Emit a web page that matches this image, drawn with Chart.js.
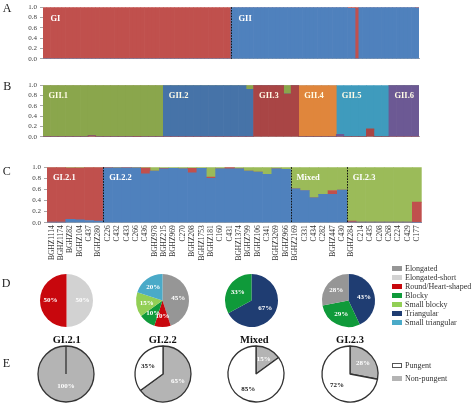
<!DOCTYPE html>
<html><head><meta charset="utf-8">
<script src="https://cdn.jsdelivr.net/npm/chart.js@4.4.0/dist/chart.umd.min.js"></script>
<style>
html,body{margin:0;padding:0;background:#fff;width:474px;height:407px;overflow:hidden;font-family:"Liberation Serif","Times New Roman",serif;}
#fig{position:relative;width:474px;height:407px;}
canvas{position:absolute;}
.letter{position:absolute;font-size:12px;line-height:12px;color:#222;}
.grp{position:absolute;font-weight:bold;font-size:10.5px;line-height:10.5px;color:#111;transform:translateX(-50%);white-space:nowrap;}
.leg{position:absolute;font-size:8px;line-height:9px;color:#333;white-space:nowrap;}
.sw{position:absolute;width:10px;height:5px;box-sizing:border-box;}
</style></head><body><div id="fig"></div>
<script>
// ---------------- DATA ----------------
// Panel A (K=2), 100 accessions
const groupNamesA = ['GI','GII'];
const groupStartsA = [0,50];
const redA = [
1,1,1,1,1,1,1,1,1,1, 1,1,1,1,1,1,1,1,1,1, 1,1,1,1,1,1,1,1,1,1, 1,1,1,1,1,1,1,1,1,1, 1,1,1,1,1,1,1,1,1,1,
0,0,0,0,0,0,0,0,0,0, 0,0,0,0,0,0,0,0,0,0, 0,0,0,0,0,0,0,0,0,0, 0,0.02,0.02,1,0,0,0,0,0,0, 0,0,0,0,0,0,0,0,0,0.01];
const blueA = [
0,0,0,0,0,0,0,0,0,0, 0,0,0,0,0,0,0,0,0,0, 0,0,0,0,0,0,0,0,0,0, 0,0,0,0,0,0,0,0,0,0, 0,0,0,0,0,0,0,0,0,0,
1,1,1,1,1,1,1,1,1,1, 1,1,1,1,1,1,1,1,1,1, 1,1,1,1,1,1,1,1,1,1, 1,0.98,0.98,0,1,1,1,1,1,1, 1,1,1,1,1,1,1,1,1,0.99];

// Panel B (GII substructure), 50 accessions
const groupNamesB = ['GII.1','GII.2','GII.3','GII.4','GII.5','GII.6'];
const groupStartsB = [0,16,28,34,39,46];
const redB    = [0,0,0,0,0,0,0.02,0,0,0, 0,0,0.01,0,0,0,0,0,0,0, 0,0,0,0,0,0,0,0,1,1, 1,1,0.83,1,0,0,0,0,0,0, 0,0,0,0.15,0,0,0,0,0,0];
const purpleB = [0,0,0,0,0,0,0,0,0,0, 0,0,0,0,0,0,0,0,0,0, 0,0,0,0,0,0,0,0,0,0, 0,0,0,0,0,0,0,0,0,0.05, 0,0,0,0,0,0,1,1,1,1];
const blueB   = [0,0,0,0,0,0,0,0,0,0, 0,0,0,0,0,0,1,1,1,1, 1,1,1,1,1,1,1,0.92,0,0, 0,0,0,0,0,0,0,0,0,0, 0,0,0,0,0,0,0,0,0,0];
const greenB  = [1,1,1,1,1,1,0.98,1,1,1, 1,1,0.99,1,1,1,0,0,0,0, 0,0,0,0,0,0,0,0.08,0,0, 0,0,0.17,0,0,0,0,0,0,0, 0,0,0,0,0,0,0,0,0,0];
const orangeB = [0,0,0,0,0,0,0,0,0,0, 0,0,0,0,0,0,0,0,0,0, 0,0,0,0,0,0,0,0,0,0, 0,0,0,0,1,1,1,1,1,0, 0,0,0,0,0,0,0,0,0,0];
const tealB   = [0,0,0,0,0,0,0,0,0,0, 0,0,0,0,0,0,0,0,0,0, 0,0,0,0,0,0,0,0,0,0, 0,0,0,0,0,0,0,0,0,0.95, 1,1,1,0.85,1,1,0,0,0,0];

// Panel C (GI.2 substructure), 40 accessions
const samplesC = ['BGHZ1114','BGHZ1174','BGHZ82','BGHZ104','C437','BGHZ280','C226','C432','C433','C266','C436','BGHZ978','BGHZ215','BGHZ969','C270','BGHZ208','BGHZ1753','BGHZ181','C160','C431','BGHZ1374','BGHZ799','BGHZ106','C341','BGHZ3269','BGHZ966','BGHZ2169','C331','C434','C282','BGHZ447','C430','BGHZ284','C214','C435','C208','C268','C224','C429','C177'];
const groupNamesC = ['GI.2.1','GI.2.2','Mixed','GI.2.3'];
const groupStartsC = [0,6,26,32];
const blueC  = [0.01,0.01,0.06,0.05,0.04,0.03, 0.99,0.99,0.99,0.99,0.88,0.93,0.97,0.98,0.97,0.90,0.98,0.80,0.97,0.97,0.97,0.93,0.91,0.87,0.97,0.96, 0.61,0.58,0.45,0.51,0.51,0.59, 0.01,0.01,0.01,0.01,0.01,0.01,0.01,0];
const redC   = [0.99,0.99,0.93,0.94,0.96,0.97, 0.01,0,0.01,0,0.11,0,0.01,0,0,0.08,0,0.02,0,0.03,0,0,0,0,0,0, 0,0,0,0,0.07,0, 0.02,0,0,0,0,0,0,0.37];
const greenC = [0,0,0.01,0.01,0,0, 0,0.01,0,0.01,0.01,0.07,0.02,0.02,0.03,0.02,0.02,0.18,0.03,0,0.03,0.07,0.09,0.13,0.03,0.04, 0.39,0.42,0.55,0.49,0.42,0.41, 0.97,0.99,0.99,0.99,0.99,0.99,0.99,0.63];

// Panel D: fruit shape (%), slices clockwise from top
const shapeNames = ['Elongated','Elongated-short','Round/Heart-shaped','Blocky','Small blocky','Triangular','Small triangular'];
const pieGroups = ['GI.2.1','GI.2.2','Mixed','GI.2.3'];
const shapesGI21 = ['Elongated-short','Round/Heart-shaped'];
const valuesGI21 = [50,50];
const shapesGI22 = ['Elongated','Round/Heart-shaped','Blocky','Small blocky','Small triangular'];
const valuesGI22 = [45,10,10,15,20];
const shapesMixed = ['Triangular','Blocky'];
const valuesMixed = [67,33];
const shapesGI23 = ['Triangular','Blocky','Elongated'];
const valuesGI23 = [43,29,28];

// Panel E: pungency (%)
const pungencyNames = ['Pungent','Non-pungent'];
const nonPungent = [100,65,15,28];
const pungent = [0,35,85,72];

// ---------------- STYLE ----------------
const SERIF = 'Liberation Serif';
const shapeColors = {'Elongated':'#969696','Elongated-short':'#d2d2d2','Round/Heart-shaped':'#c8070d','Blocky':'#0f9a3a','Small blocky':'#92cf55','Triangular':'#1f3d72','Small triangular':'#4aaac8'};
const fig = document.getElementById('fig');

const groupDeco = {
  id:'groupDeco',
  afterDatasetsDraw(chart, args, o){
    const {ctx, chartArea} = chart; const xs = chart.scales.x;
    const n = chart.data.labels.length; const bw = xs.width / n;
    ctx.save();
    ctx.strokeStyle = '#111'; ctx.lineWidth = 1; ctx.setLineDash([1.6,1.2]);
    o.starts.forEach((s,k)=>{
      if(!o.dividers || s === 0) return;
      const px = Math.round(xs.getPixelForValue(s) - bw/2) + 0.5;
      ctx.beginPath(); ctx.moveTo(px, chartArea.top); ctx.lineTo(px, chartArea.bottom); ctx.stroke();
    });
    ctx.setLineDash([]);
    ctx.font = 'bold 8.5px "' + SERIF + '"'; ctx.fillStyle = o.color; ctx.textBaseline = 'alphabetic';
    o.names.forEach((nm,k)=>{
      const px = xs.getPixelForValue(o.starts[k]) - bw/2 + o.dx;
      ctx.fillText(nm, px, chartArea.top + o.dy);
    });
    ctx.restore();
  }
};

function makeCanvas(left, top, w, h){
  const c = document.createElement('canvas');
  c.width = w; c.height = h;
  c.style.left = left + 'px'; c.style.top = top + 'px';
  c.style.width = w + 'px'; c.style.height = h + 'px';
  fig.appendChild(c);
  return c;
}

function makeBar(cfg){
  const c = makeCanvas(cfg.left, cfg.top, cfg.w, cfg.h);
  new Chart(c, {
    type:'bar',
    data:{labels:cfg.labels, datasets:cfg.series.map(s=>({label:s[0], data:s[1], backgroundColor:s[2], borderWidth:0, barPercentage:1, categoryPercentage:1}))},
    options:{
      responsive:false, animation:false, events:[],
      layout:{padding:{top:cfg.padTop, right:cfg.padRight, left:0, bottom:0}},
      plugins:{legend:{display:false}, tooltip:{enabled:false},
        groupDeco:{names:cfg.names, starts:cfg.starts, dividers:cfg.dividers, dx:cfg.dx, dy:cfg.dy, color:cfg.labelColor}},
      scales:{
        x:{stacked:true, grid:{display:false, drawTicks:false}, border:{display:true, color:'#a8a8a8', width:1},
           ticks:cfg.xTicks, afterFit(s){ s.height = cfg.xH; }},
        y:{stacked:true, min:0, max:1,
           grid:{display:true, drawOnChartArea:false, drawTicks:true, tickLength:3, color:'#a8a8a8'},
           border:{display:false},
           ticks:{stepSize:0.2, autoSkip:false, padding:3, color:'#404040', font:{family:SERIF, size:7}, callback:v=>Number(v).toFixed(1)},
           afterFit(s){ s.width = cfg.yW; }}
      }
    },
    plugins:[groupDeco]
  });
}

const idxA = redA.map((_, i) => String(i + 1));
const idxB = redB.map((_, i) => String(i + 1));

makeBar({left:0, top:0, w:425, h:66, padTop:4.3, padRight:6, yW:43, xH:5,
  labels:idxA, xTicks:{display:false},
  series:[['Cluster 2',blueA,'#4f81bd'],['Cluster 1',redA,'#c0504d']],
  names:groupNamesA, starts:groupStartsA, dividers:true, dx:7.5, dy:14.2, labelColor:'#ffffff'});

makeBar({left:0, top:78, w:425, h:66, padTop:4.7, padRight:6, yW:43, xH:5.7,
  labels:idxB, xTicks:{display:false},
  series:[['GII.3',redB,'#a94545'],['GII.6',purpleB,'#6c5994'],['GII.2',blueB,'#4673a8'],['GII.1',greenB,'#8aa64c'],['GII.4',orangeB,'#e0863c'],['GII.5',tealB,'#3f9bbd']],
  names:groupNamesB, starts:groupStartsB, dividers:false, dx:5.5, dy:12.3, labelColor:'#fffbe6'});

makeBar({left:0, top:160, w:430, h:110, padTop:6.7, padRight:8.3, yW:47, xH:47.3,
  labels:samplesC,
  xTicks:{display:true, autoSkip:false, maxRotation:90, minRotation:90, padding:2.5, color:'#333', font:{family:SERIF, size:7.5}},
  series:[['Blue',blueC,'#4f81bd'],['Red',redC,'#c0504d'],['Green',greenC,'#9bbb59']],
  names:groupNamesC, starts:groupStartsC, dividers:true, dx:6, dy:12.8, labelColor:'#ffffff'});

// ---- pies ----
const pieLabels = {
  id:'pieLabels',
  afterDatasetsDraw(chart, args, o){
    const ctx = chart.ctx; const meta = chart.getDatasetMeta(0); const ds = chart.data.datasets[0];
    ctx.save(); ctx.font = 'bold 7px "' + SERIF + '"'; ctx.textAlign = 'center'; ctx.textBaseline = 'middle';
    meta.data.forEach((arc,i)=>{
      const v = ds.data[i]; if(!v) return;
      const p = arc.getProps(['x','y','startAngle','endAngle','outerRadius'], true);
      const mid = (p.startAngle + p.endAngle)/2;
      const f = v >= 100 ? 0.42 : o.factor;
      ctx.fillStyle = o.textColors[i];
      ctx.fillText(v + '%', p.x + Math.cos(mid)*p.outerRadius*f, p.y + Math.sin(mid)*p.outerRadius*f);
    });
    ctx.restore();
  }
};

function makePie(cx, cy, r, labels, values, colors, textColors, bw){
  const s = Math.ceil(2*r + 8);
  const c = makeCanvas(cx - s/2, cy - s/2, s, s);
  new Chart(c, {
    type:'pie',
    data:{labels:labels, datasets:[{data:values, backgroundColor:colors, borderColor:'#333', borderWidth:bw, hoverOffset:0}]},
    options:{responsive:false, animation:false, events:[], radius:r, layout:{padding:0},
      plugins:{legend:{display:false}, tooltip:{enabled:false}, pieLabels:{factor:0.6, textColors:textColors}}},
    plugins:[pieLabels]
  });
}

const dShapes = [shapesGI21, shapesGI22, shapesMixed, shapesGI23];
const dValues = [valuesGI21, valuesGI22, valuesMixed, valuesGI23];
const dX = [66.7, 162.7, 251.7, 348.3];
const eX = [66.3, 163.3, 256.3, 350.3];
dShapes.forEach((sh,i)=>{
  makePie(dX[i], 300.5, 26.5, sh, dValues[i], sh.map(n=>shapeColors[n]), sh.map(()=> '#ffffff'), 0);
});
pieGroups.forEach((g,i)=>{
  makePie(eX[i], 374, 28, ['Non-pungent','Pungent'], [nonPungent[i], pungent[i]], ['#b4b4b4','#ffffff'], ['#ffffff','#222222'], 1.3);
});

// ---- HTML text ----
function addDiv(cls, text, left, top, extra){
  const d = document.createElement('div'); d.className = cls; d.textContent = text;
  d.style.left = left + 'px'; d.style.top = top + 'px';
  if(extra) Object.assign(d.style, extra);
  fig.appendChild(d); return d;
}
[['A',2.7,1.6],['B',3.3,80],['C',2.7,165],['D',1.7,276.6],['E',2.7,357.2]].forEach(l=>addDiv('letter', l[0], l[1], l[2]));
pieGroups.forEach((g,i)=> addDiv('grp', g, [66.7,162.7,254.3,350][i], 335.2));

shapeNames.forEach((n,i)=>{
  const cy = 268 + 9*i;
  const sw = addDiv('sw', '', 391.7, cy - 2.5); sw.style.background = shapeColors[n];
  addDiv('leg', n, 405, cy - 4.5);
});
[['Pungent',365.3,'#ffffff','1px solid #555'],['Non-pungent',378,'#b4b4b4','none']].forEach(e=>{
  const sw = addDiv('sw', '', 391.7, e[1] - 2.5); sw.style.background = e[2]; sw.style.border = e[3];
  addDiv('leg', e[0], 405, e[1] - 4.5);
});
</script></body></html>
